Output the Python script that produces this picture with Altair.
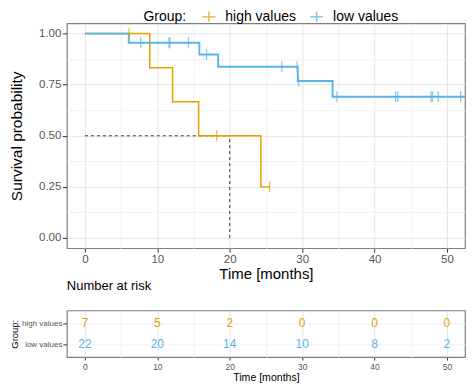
import altair as alt
import pandas as pd

# ---------------- data ----------------
groups = ["high values", "low values"]
palette = ["#E69F00", "#56B4E9"]

# Kaplan-Meier step curves (time in months, survival probability)
high_time = [0, 8.95, 12.1, 15.7, 24.3, 25.5]
high_surv = [1.0, 0.833, 0.667, 0.5, 0.25, 0.25]
low_time = [0, 6.05, 15.8, 18.4, 29.4, 34.2, 52.5]
low_surv = [1.0, 0.955, 0.898, 0.838, 0.768, 0.691, 0.691]

# censoring marks
high_cens_time = [6.1, 18.2, 25.5]
high_cens_surv = [1.0, 0.5, 0.25]
low_cens_time = [7.7, 11.6, 11.75, 14.3, 16.8, 27.2, 29.3, 29.5, 34.8,
                 42.9, 43.2, 47.8, 48.0, 48.8, 51.9]
low_cens_surv = [0.955, 0.955, 0.955, 0.955, 0.898, 0.838, 0.838, 0.768, 0.691,
                 0.691, 0.691, 0.691, 0.691, 0.691, 0.691]

# median survival guide (high values group)
median_time = 20.0
median_surv = 0.5

# number at risk table
risk_times = [0, 10, 20, 30, 40, 50]
risk_high = [7, 5, 2, 0, 0, 0]
risk_low = [22, 20, 14, 10, 8, 2]

x_ticks = [0, 5, 10, 15, 20, 25, 30, 35, 40, 45, 50]
y_ticks = [0, 0.125, 0.25, 0.375, 0.5, 0.625, 0.75, 0.875, 1.0]

# ---------------- tables ----------------
curve_df = pd.concat([
    pd.DataFrame({"time": high_time, "surv": high_surv, "group": groups[0]}),
    pd.DataFrame({"time": low_time, "surv": low_surv, "group": groups[1]}),
], ignore_index=True)

cens_df = pd.concat([
    pd.DataFrame({"time": high_cens_time, "surv": high_cens_surv, "group": groups[0]}),
    pd.DataFrame({"time": low_cens_time, "surv": low_cens_surv, "group": groups[1]}),
], ignore_index=True)

median_df = pd.DataFrame({
    "time": [0, median_time], "time2": [median_time, median_time],
    "surv": [median_surv, 0], "surv2": [median_surv, median_surv],
})

risk_df = pd.concat([
    pd.DataFrame({"time": risk_times, "n": risk_high, "group": groups[0]}),
    pd.DataFrame({"time": risk_times, "n": risk_low, "group": groups[1]}),
], ignore_index=True)

FONT = "Liberation Sans"
LABEL_GRAY = "#555555"
TICK_GRAY = "#333333"
W = 399
H_MAIN = 225.3
H_RISK = 46.7
TITLE_X = -57.4

major_x = "datum.value % 10 == 0"
major_y = "round(datum.value * 8) % 2 == 0"

x_scale = alt.Scale(domain=[-2.5, 52.5], nice=False, zero=False)
y_scale = alt.Scale(domain=[-0.05, 1.05], nice=False, zero=False)
color_scale = alt.Scale(domain=groups, range=palette)

x_axis_main = alt.Axis(
    values=x_ticks, labelExpr=f"{major_x} ? datum.label : ''",
    title="Time [months]", titleFontSize=15, titlePadding=1,
    labelFontSize=11.5, labelColor=LABEL_GRAY, labelPadding=1.5,
    labelFlush=False, labelOverlap=False,
    tickSize=4, tickColor={"condition": {"test": major_x, "value": TICK_GRAY}, "value": "transparent"},
    gridColor={"condition": {"test": major_x, "value": "#E6E6E6"}, "value": "#F2F2F2"},
    grid=True, domain=False,
)
y_axis_main = alt.Axis(
    values=y_ticks, labelExpr=f"{major_y} ? format(datum.value, '.2f') : ''",
    title="Survival probability", titleFontSize=15.5, titleX=TITLE_X, titleBaseline="top",
    labelFontSize=11.5, labelColor=LABEL_GRAY, labelPadding=1.5,
    labelFlush=False, labelOverlap=False,
    tickSize=4.5, tickColor={"condition": {"test": major_y, "value": TICK_GRAY}, "value": "transparent"},
    gridColor={"condition": {"test": major_y, "value": "#E6E6E6"}, "value": "#F2F2F2"},
    grid=True, domain=False,
)

legend = alt.Legend(
    title="Group:", orient="none", legendX=76.8, legendY=-14.3, direction="horizontal",
    titleOrient="left", titleFontSize=14, titleFontWeight="normal", titleColor="black",
    titlePadding=15, labelFontSize=14, labelColor="black", labelOffset=9,
    columnPadding=10, symbolType="M-1,0H1M0,-0.8V0.8", symbolSize=170,
    symbolStrokeWidth=1.5, symbolFillColor="transparent", padding=0,
)

color_enc = alt.Color("group:N", scale=color_scale, legend=legend)
x_enc = alt.X("time:Q", scale=x_scale, axis=x_axis_main)
y_enc = alt.Y("surv:Q", scale=y_scale, axis=y_axis_main)

# "high values" drawn first so that "low values" sits on top, as in the original
lines_high = alt.Chart(curve_df).mark_line(interpolate="step-after", strokeWidth=1.5, clip=True).encode(
    x=x_enc, y=y_enc, color=color_enc,
).transform_filter(alt.datum.group == groups[0])
lines_low = alt.Chart(curve_df).mark_line(interpolate="step-after", strokeWidth=1.9, clip=True).encode(
    x=x_enc, y=y_enc, color=color_enc,
).transform_filter(alt.datum.group == groups[1])

cens = alt.Chart(cens_df).mark_tick(orient="vertical", size=11, thickness=1.3, clip=True).encode(
    x=x_enc, y=y_enc, color=color_enc,
)

median_rules = alt.Chart(median_df).mark_rule(color="#333333", strokeDash=[3, 3], strokeWidth=1).encode(
    x=x_enc, x2="time2:Q", y=y_enc, y2="surv2:Q",
)

main = alt.layer(median_rules, lines_high, lines_low, cens).properties(width=W, height=H_MAIN)

# ---------------- risk table ----------------
x_axis_risk = alt.Axis(
    values=x_ticks, labelExpr=f"{major_x} ? datum.label : ''",
    title="Time [months]", titleFontSize=10.6, titlePadding=2, titleColor="black",
    labelFontSize=8.5, labelColor=LABEL_GRAY, labelPadding=2,
    labelFlush=False, labelOverlap=False,
    tickSize=3, tickColor={"condition": {"test": major_x, "value": TICK_GRAY}, "value": "transparent"},
    gridColor={"condition": {"test": major_x, "value": "#E6E6E6"}, "value": "#F2F2F2"},
    grid=True, domain=False,
)
y_axis_risk = alt.Axis(
    title="Group:", titleFontSize=9.5, titleX=TITLE_X, titleBaseline="top", titleColor="black",
    labelFontSize=8, labelColor=LABEL_GRAY, labelPadding=1,
    tickSize=4, tickColor=TICK_GRAY, gridColor="#F0F0F0", grid=True, domain=False,
)

risk = alt.Chart(risk_df).mark_text(fontSize=12, baseline="middle").encode(
    x=alt.X("time:Q", scale=x_scale, axis=x_axis_risk),
    y=alt.Y("group:N", scale=alt.Scale(type="point", domain=groups, padding=0.6), axis=y_axis_risk, sort=groups),
    text="n:Q",
    color=alt.Color("group:N", scale=alt.Scale(domain=groups, range=palette), legend=None),
).properties(
    width=W, height=H_RISK,
    title=alt.TitleParams("Number at risk", anchor="start", frame="group", fontSize=13,
                          fontWeight="normal", color="black", offset=4, baseline="bottom"),
)

chart = alt.vconcat(main, risk, spacing=61.7, bounds="flush").resolve_scale(
    color="independent").resolve_legend(color="independent").properties(
    padding={"left": 0, "top": 0, "right": 0, "bottom": 0}).configure(
    font=FONT, padding={"left": 0, "top": 0, "right": 0, "bottom": 0},
).configure_axis(
    titleFontWeight="normal", titleColor="black", labelFont=FONT, titleFont=FONT,
).configure_view(stroke="#7F7F7F", strokeWidth=1.2)

chart.save("out.html", embed_options={"renderer": "svg", "actions": False})
